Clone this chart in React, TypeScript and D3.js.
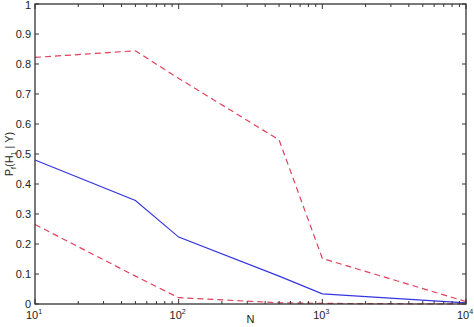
import React from "react";
import * as d3 from "d3";

const nValues = [10, 50, 100, 500, 1000, 10000];
const meanSeries = [0.48, 0.345, 0.223, 0.093, 0.034, 0.004];
const upperSeries = [0.822, 0.844, 0.752, 0.547, 0.152, 0.008];
const lowerSeries = [0.265, 0.093, 0.021, 0.004, 0.002, 0.0];
const yTicks = [0, 0.1, 0.2, 0.3, 0.4, 0.5, 0.6, 0.7, 0.8, 0.9, 1];
const xMajor = [10, 100, 1000, 10000];
const xExponents = ["1", "2", "3", "4"];

const W = 474, H = 327;
const L = 35, R = 466, T = 4, B = 304;

export default function App() {
  const x = d3.scaleLog().domain([10, 10000]).range([L, R]);
  const y = d3.scaleLinear().domain([0, 1]).range([B, T]);
  const line = (vals: number[]) =>
    d3.line<number>().x((_, i) => x(nValues[i])).y((v) => y(v))(vals) || "";
  const minor: number[] = [];
  for (let e = 1; e < 4; e++) for (let k = 2; k <= 9; k++) minor.push(k * Math.pow(10, e));
  const font = "Helvetica, Arial, 'Liberation Sans', sans-serif";
  const axisColor = "#333";
  return (
    <svg width={W} height={H} style={{ position: "absolute", left: 0, top: 0, background: "#fff" }} fontFamily={font}>
      <rect x={0} y={0} width={W} height={H} fill="#fff" />
      <path d={line(upperSeries)} fill="none" stroke="#e0405a" strokeWidth={1.2} strokeDasharray="6,4" />
      <path d={line(lowerSeries)} fill="none" stroke="#e0405a" strokeWidth={1.2} strokeDasharray="6,4" />
      <path d={line(meanSeries)} fill="none" stroke="#3535e0" strokeWidth={1.2} />
      <rect x={L} y={T} width={R - L} height={B - T} fill="none" stroke={axisColor} strokeWidth={1.3} />
      {yTicks.map((t) => (
        <g key={t}>
          <line x1={L} x2={L + 4} y1={y(t)} y2={y(t)} stroke={axisColor} />
          <line x1={R} x2={R - 4} y1={y(t)} y2={y(t)} stroke={axisColor} />
          <text x={L - 4} y={Math.max(y(t), 5)} dy="0.35em" textAnchor="end" fontSize={11} fill="#222">{String(t)}</text>
        </g>
      ))}
      {xMajor.map((t, i) => (
        <g key={t}>
          <line x1={x(t)} x2={x(t)} y1={B} y2={B - 5} stroke={axisColor} />
          <line x1={x(t)} x2={x(t)} y1={T} y2={T + 5} stroke={axisColor} />
          <text x={x(t) - 1} y={B + 15} textAnchor="middle" fontSize={11} fill="#222">
            10<tspan fontSize={7} dy={-5}>{xExponents[i]}</tspan>
          </text>
        </g>
      ))}
      {minor.map((t) => (
        <g key={t}>
          <line x1={x(t)} x2={x(t)} y1={B} y2={B - 3} stroke={axisColor} />
          <line x1={x(t)} x2={x(t)} y1={T} y2={T + 3} stroke={axisColor} />
        </g>
      ))}
      <text x={(L + R) / 2} y={H - 4} textAnchor="middle" fontSize={11} fill="#222">N</text>
      <text transform={`translate(13,${(T + B) / 2}) rotate(-90)`} textAnchor="middle" fontSize={11} fill="#222">
        P<tspan fontSize={7} dy={3}>f</tspan><tspan dy={-3}>(H</tspan><tspan fontSize={7} dy={3}>1</tspan><tspan dy={-3}> | Y)</tspan>
      </text>
    </svg>
  );
}
